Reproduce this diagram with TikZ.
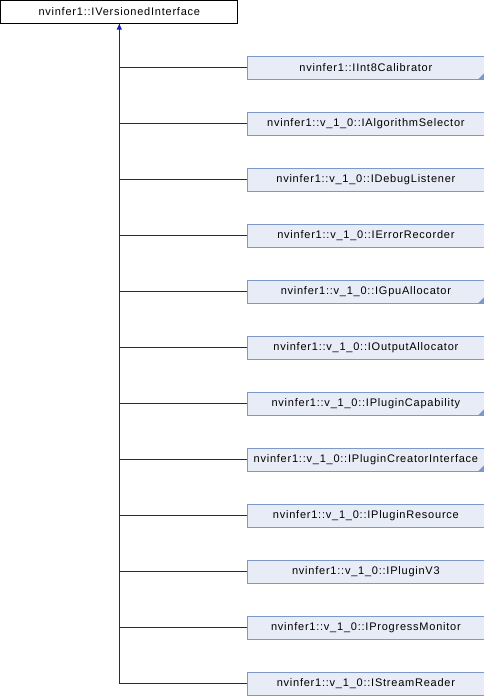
\documentclass[tikz,border=0pt]{standalone}
\usepackage{fontspec}
\setmainfont{Liberation Sans}[LetterSpace=7]
\definecolor{boxfill}{HTML}{E8ECF6}
\definecolor{boxedge}{HTML}{7F98CC}
\definecolor{linknavy}{HTML}{1C1CB4}
\usetikzlibrary{positioning, arrows.meta}

\begin{document}
\begin{tikzpicture}[
    x=1pt, y=1pt,
    base/.style={
      rectangle, draw=black, fill=white, line width=0.8pt,
      minimum width=237pt, minimum height=22.5pt, inner sep=0pt,
      font=\fontsize{11}{13}\selectfont,
    },
    derived/.style={
      rectangle, draw=boxedge, fill=boxfill, line width=0.8pt,
      minimum width=237pt, minimum height=22.5pt, inner sep=0pt,
      font=\fontsize{11}{13}\selectfont,
    },
    hasmore/.style={
      path picture={
        \fill[boxedge] (path picture bounding box.south east)
          -- ++(-6pt,0) -- ++(6pt,6pt) -- cycle;
      },
    },
    subclass/.style={draw=linknavy, line width=1.1pt},
    node distance=32.7pt,
  ]
  \useasboundingbox (0,0) rectangle (484,-696);

  \node[base, anchor=north west] (iface) at (0.4,-0.4) {nvinfer1::IVersionedInterface};

  \node[derived, hasmore, anchor=north west] (int8) at (247,-56) {nvinfer1::IInt8Calibrator};
  \node[derived, below=of int8] (algsel) {nvinfer1::v\_1\_0::IAlgorithmSelector};
  \node[derived, below=of algsel] (debug) {nvinfer1::v\_1\_0::IDebugListener};
  \node[derived, below=of debug] (errrec) {nvinfer1::v\_1\_0::IErrorRecorder};
  \node[derived, hasmore, below=of errrec] (gpualloc) {nvinfer1::v\_1\_0::IGpuAllocator};
  \node[derived, below=of gpualloc] (outalloc) {nvinfer1::v\_1\_0::IOutputAllocator};
  \node[derived, hasmore, below=of outalloc] (plugcap) {nvinfer1::v\_1\_0::IPluginCapability};
  \node[derived, hasmore, below=of plugcap] (plugcreat) {nvinfer1::v\_1\_0::IPluginCreatorInterface};
  \node[derived, below=of plugcreat] (plugres) {nvinfer1::v\_1\_0::IPluginResource};
  \node[derived, below=of plugres] (plugv3) {nvinfer1::v\_1\_0::IPluginV3};
  \node[derived, below=of plugv3] (progress) {nvinfer1::v\_1\_0::IProgressMonitor};
  \node[derived, below=of progress] (stream) {nvinfer1::v\_1\_0::IStreamReader};

  \draw[subclass, {Triangle[length=6pt,width=5pt]}-] (iface.south) |- (stream.west);
  \draw[subclass] (iface.south) |- (int8.west);
  \draw[subclass] (iface.south) |- (algsel.west);
  \draw[subclass] (iface.south) |- (debug.west);
  \draw[subclass] (iface.south) |- (errrec.west);
  \draw[subclass] (iface.south) |- (gpualloc.west);
  \draw[subclass] (iface.south) |- (outalloc.west);
  \draw[subclass] (iface.south) |- (plugcap.west);
  \draw[subclass] (iface.south) |- (plugcreat.west);
  \draw[subclass] (iface.south) |- (plugres.west);
  \draw[subclass] (iface.south) |- (plugv3.west);
  \draw[subclass] (iface.south) |- (progress.west);
\end{tikzpicture}
\end{document}
